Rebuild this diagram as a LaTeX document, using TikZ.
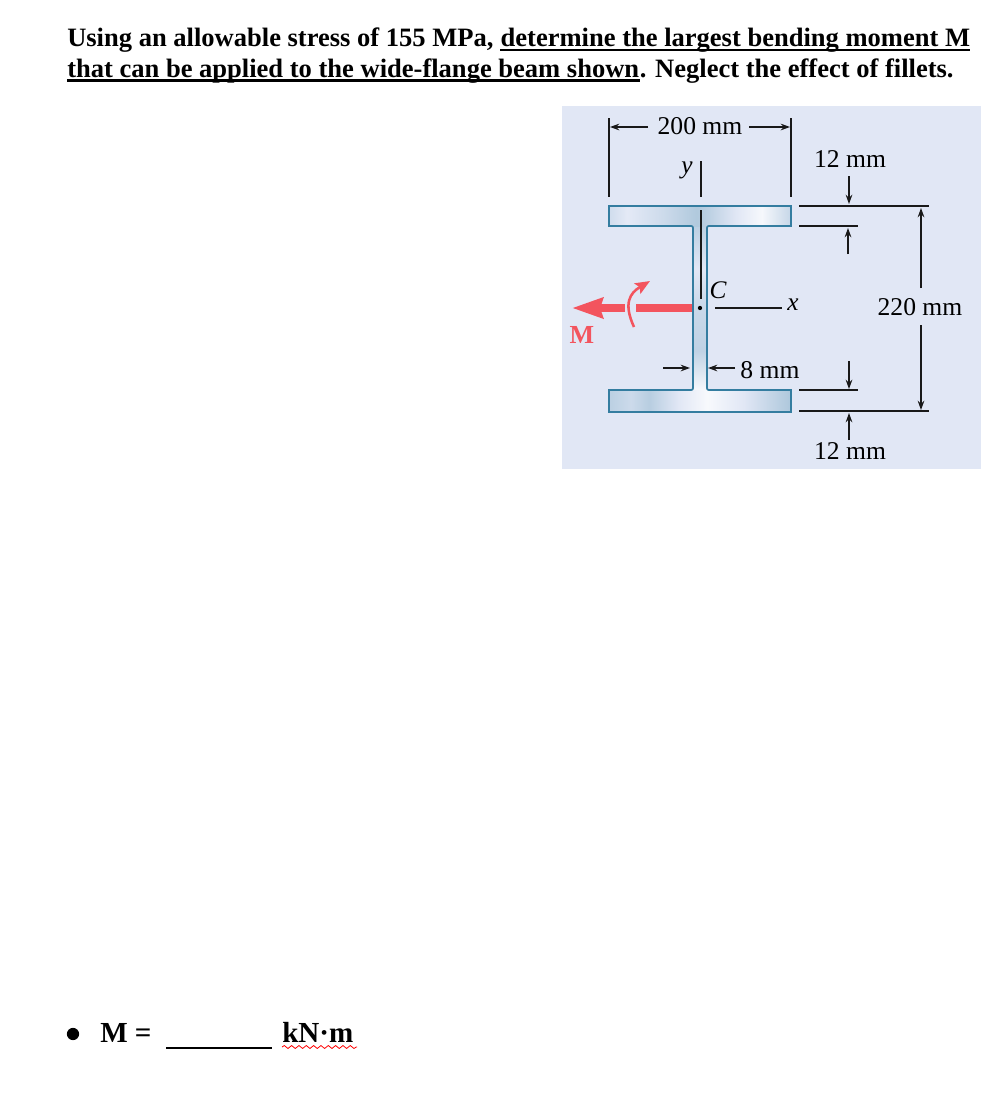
\documentclass[tikz,border=0pt]{standalone}
\usepackage{fontspec}
\setmainfont{Liberation Serif}
\usetikzlibrary{arrows.meta,decorations.pathmorphing}
\definecolor{panelblue}{RGB}{225,231,245}
\definecolor{edgeblue}{RGB}{52,125,160}
\definecolor{momentred}{RGB}{243,84,94}
\pgfdeclarehorizontalshading{topflange}{100bp}{color(0bp)=(edgeblue!10!panelblue);color(25bp)=(edgeblue!10!panelblue);color(30bp)=(panelblue!90!white);color(40bp)=(edgeblue!12!panelblue);color(49bp)=(edgeblue!28!panelblue);color(52bp)=(edgeblue!22!panelblue);color(60bp)=(panelblue);color(67bp)=(white!70!panelblue);color(75bp)=(edgeblue!16!panelblue);color(100bp)=(edgeblue!16!panelblue)}
\pgfdeclarehorizontalshading{bottomflange}{100bp}{color(0bp)=(edgeblue!22!panelblue);color(25bp)=(edgeblue!22!panelblue);color(31bp)=(edgeblue!12!panelblue);color(36bp)=(edgeblue!24!panelblue);color(44bp)=(panelblue);color(52bp)=(white!75!panelblue);color(62bp)=(panelblue);color(75bp)=(edgeblue!30!panelblue);color(100bp)=(edgeblue!30!panelblue)}
\pgfdeclareverticalshading{webshade}{100bp}{color(0bp)=(white!70!panelblue);color(25bp)=(white!70!panelblue);color(37bp)=(edgeblue!20!panelblue);color(50bp)=(edgeblue!14!panelblue);color(62bp)=(panelblue);color(75bp)=(edgeblue!22!panelblue);color(100bp)=(edgeblue!22!panelblue)}
\tikzset{
  x=0.75pt,y=-0.75pt,
  headline/.style={font=\fontsize{19.9}{24}\selectfont\bfseries,inner sep=0pt,anchor=base west},
  answer/.style={font=\fontsize{21.8}{24}\selectfont\bfseries,inner sep=0pt,anchor=base west},
  dimtext/.style={font=\fontsize{19.2}{22}\selectfont,inner sep=0pt},
  symtext/.style={font=\fontsize{19}{22}\selectfont\itshape,inner sep=0pt},
  thinline/.style={line width=1.1pt,black!90},
  dimarrow/.style={line width=1.1pt,black!90,-{Stealth[length=7pt,width=5pt]}},
  uline/.style={line width=2pt,black},
  beamedge/.style={draw=edgeblue,line width=1.3pt,line join=miter},
}
\begin{document}
\begin{tikzpicture}
\useasboundingbox (0,0) rectangle (1004,1104);
\fill[white] (0,0) rectangle (1004,1104);

% heading
\node[headline] (la) at (67,46) {Using an allowable stress of 155 MPa,\hspace*{0.25em}};
\node[headline] (lb) at (la.base east) {determine the largest bending moment M};
\node[headline] (lc) at (67,77) {that can be applied to the wide-flange beam shown};
\node[headline] (ld) at (lc.base east) {. Neglect the effect of fillets.};
\draw[uline] ([yshift=-3pt]lb.base west) -- ([yshift=-3pt]lb.base east);
\draw[uline] ([yshift=-2.5pt]lc.base west) -- ([yshift=-2.5pt]lc.base east);

% panel
\fill[panelblue] (562,106) rectangle (981,469);

% beam
\fill[panelblue] (609,206) -- (791,206) -- (791,226) -- (711,226) .. controls (707,226) .. (707,230) -- (707,386) .. controls (707,390) .. (711,390) -- (791,390) -- (791,412) -- (609,412) -- (609,390) -- (689,390) .. controls (693,390) .. (693,386) -- (693,230) .. controls (693,226) .. (689,226) -- (609,226) -- cycle;
\shade[shading=webshade] (693,226) rectangle (707,390);
\shade[shading=topflange] (609,206) rectangle (791,226);
\shade[shading=bottomflange] (609,390) rectangle (791,412);
\draw[beamedge] (609,206) -- (791,206) -- (791,226) -- (711,226) .. controls (707,226) .. (707,230) -- (707,386) .. controls (707,390) .. (711,390) -- (791,390) -- (791,412) -- (609,412) -- (609,390) -- (689,390) .. controls (693,390) .. (693,386) -- (693,230) .. controls (693,226) .. (689,226) -- (609,226) -- cycle;

% coordinates
\coordinate (wl) at (609,118); \coordinate (wlb) at (609,197);
\coordinate (wr) at (791,118); \coordinate (wrb) at (791,197);
\coordinate (yt) at (701,161); \coordinate (yb) at (701,197);
\coordinate (yc) at (701,210); \coordinate (yd) at (701,299);
\coordinate (cdot) at (700,308);
\coordinate (xa) at (715,308); \coordinate (xb) at (782,308);
\coordinate (ttl) at (799,206); \coordinate (ttr) at (929,206);
\coordinate (tbl) at (799,226); \coordinate (tbr) at (858,226);
\coordinate (btl) at (799,390); \coordinate (btr) at (858,390);
\coordinate (bbl) at (799,411); \coordinate (bbr) at (929,411);

% dimension labels
\node[dimtext] (d200) at (700,126) {200 mm};
\node[dimtext] (d12t) at (850,159) {12 mm};
\node[dimtext] (d220) at (920,307) {220 mm};
\node[dimtext] (d8) at (770,370) {8 mm};
\node[dimtext] (d12b) at (850,451) {12 mm};
\node[symtext] (ly) at (687,170) {y};
\node[symtext] (lcn) at (718,290) {C};
\node[symtext] (lx) at (793,305) {x};

% extension and axis lines
\draw[thinline] (wl) -- (wlb);
\draw[thinline] (wr) -- (wrb);
\draw[thinline] (yt) -- (yb);
\draw[thinline] (yc) -- (yd);
\draw[thinline] (xa) -- (xb);
\draw[thinline] (ttl) -- (ttr);
\draw[thinline] (tbl) -- (tbr);
\draw[thinline] (btl) -- (btr);
\draw[thinline] (bbl) -- (bbr);
\fill[black] (cdot) circle (1.6pt);

% dimension arrows
\coordinate (a1) at (648,127); \coordinate (a1e) at (610,127);
\coordinate (a2) at (749,127); \coordinate (a2e) at (790,127);
\draw[dimarrow] (a1) -- (a1e);
\draw[dimarrow] (a2) -- (a2e);
\coordinate (a3) at (849,176); \coordinate (a3e) at (849,204);
\draw[dimarrow] (a3) -- (a3e);
\coordinate (a4) at (848,254); \coordinate (a4e) at (848,228);
\draw[dimarrow] (a4) -- (a4e);
\coordinate (a5) at (921,288); \coordinate (a5e) at (921,208);
\draw[dimarrow] (a5) -- (a5e);
\coordinate (a6) at (921,325); \coordinate (a6e) at (921,410);
\draw[dimarrow] (a6) -- (a6e);
\coordinate (a7) at (663,368); \coordinate (a7e) at (690,368);
\draw[dimarrow] (a7) -- (a7e);
\coordinate (a8) at (735,368); \coordinate (a8e) at (708,368);
\draw[dimarrow] (a8) -- (a8e);
\coordinate (a9) at (849,361); \coordinate (a9e) at (849,389);
\draw[dimarrow] (a9) -- (a9e);
\coordinate (a10) at (849,440); \coordinate (a10e) at (849,413);
\draw[dimarrow] (a10) -- (a10e);

% moment
\coordinate (ms) at (692,308); \coordinate (mg) at (636,308);
\coordinate (mh) at (625,308); \coordinate (mt) at (572,308);
\draw[momentred,line width=5.4pt] (ms) -- (mg);
\draw[momentred,line width=5.4pt,-{Stealth[length=23pt,width=15pt,inset=2pt]}] (mh) -- (mt);
\coordinate (ca) at (634,327); \coordinate (cb) at (650,281);
\draw[momentred,line width=1.9pt,-{Stealth[length=11pt,width=9pt,inset=2pt]}] (ca) .. controls (623,303) and (630,293) .. (cb);
\node[font=\fontsize{19.5}{22}\selectfont\bfseries,text=momentred,inner sep=0pt] (lm) at (582,335) {M};

% answer line
\coordinate (bu) at (73,1034);
\fill[black] (bu) circle (4.6pt);
\node[answer] (am) at (100,1042) {M =};
\coordinate (ba) at (166,1047.5); \coordinate (bb) at (272,1047.5);
\draw[line width=1.5pt,black] (ba) -- (bb);
\node[answer] (au) at (282,1042) {kN·m};
\coordinate (wa) at (282,1047); \coordinate (wb) at (357,1047);
\draw[red,line width=0.6pt,decorate,decoration={snake,amplitude=1.1pt,segment length=5.5pt}] (wa) -- (wb);
\end{tikzpicture}
\end{document}
